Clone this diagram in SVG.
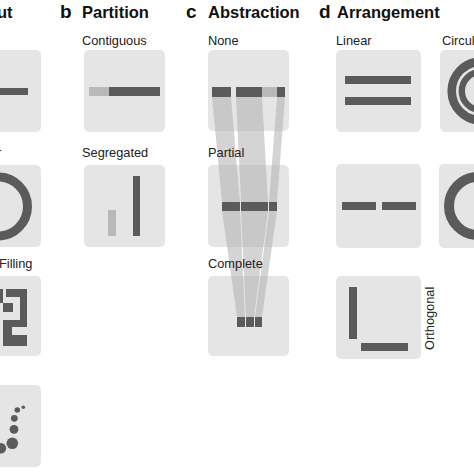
<svg xmlns="http://www.w3.org/2000/svg" width="474" height="474" viewBox="0 0 474 474">
<style>
.box{fill:#e5e5e5}
.dk{fill:#5b5b5b}
.lt{fill:#b9b9b9}
.ring{fill:none;stroke:#5b5b5b}
.title{font-family:"Liberation Sans",Arial,sans-serif;font-weight:bold;font-size:16.5px;fill:#111}
.letter{font-family:"Liberation Sans",Arial,sans-serif;font-weight:bold;font-size:19px;fill:#111}
.lbl{font-family:"Liberation Sans",Arial,sans-serif;font-size:12.8px;fill:#222}
.band{fill:#b0b0b0;fill-opacity:0.55}
</style>
<rect width="474" height="474" fill="#ffffff"/>

<!-- column a (cropped) -->
<g id="a-title"><text class="title" x="-3" y="18">ut</text></g>
<g id="a-linear">
<rect class="box" x="-42" y="50" width="83" height="82" rx="5"/>
<rect class="dk" x="-20" y="88" width="48" height="7"/>
</g>
<g id="a-circular">
<text class="lbl" x="-3" y="157">r</text>
<rect class="box" x="-42" y="165" width="83" height="82" rx="5"/>
<circle class="ring" cx="-2" cy="206.5" r="29.5" stroke-width="9"/>
</g>
<g id="a-filling">
<text class="lbl" x="-1" y="268">Filling</text>
<rect class="box" x="-42" y="276" width="83" height="80" rx="5"/>
<path class="dk" d="M-6 289H3V303H-6Z M6 289H27V320H20V297H6Z M3 303H13V312H3Z M3 320H27V327H12V335H27V346H3Z"/>
</g>
<g id="a-scatter">
<rect class="box" x="-42" y="385" width="83" height="82" rx="5"/>
<circle class="dk" cx="23.3" cy="407.3" r="1.8"/>
<circle class="dk" cx="17.3" cy="410" r="2.8"/>
<circle class="dk" cx="14.3" cy="418.3" r="3.4"/>
<circle class="dk" cx="14" cy="429.3" r="4.4"/>
<circle class="dk" cx="12.3" cy="443.3" r="5.8"/>
<circle class="dk" cx="1" cy="448.3" r="5.2"/>
</g>

<!-- column b -->
<g id="b-title"><text class="letter" x="60" y="18">b</text><text class="title" x="82" y="18">Partition</text></g>
<g id="b-contiguous">
<text class="lbl" x="82" y="45">Contiguous</text>
<rect class="box" x="84" y="50" width="81" height="82" rx="5"/>
<rect class="lt" x="89" y="87" width="20" height="9"/>
<rect class="dk" x="109" y="87" width="51" height="9"/>
</g>
<g id="b-segregated">
<text class="lbl" x="82" y="157">Segregated</text>
<rect class="box" x="84" y="165" width="81" height="82" rx="5"/>
<rect class="lt" x="108" y="210" width="8" height="26"/>
<rect class="dk" x="133" y="176" width="7" height="60"/>
</g>

<!-- column c -->
<g id="c-title"><text class="letter" x="186" y="18">c</text><text class="title" x="208" y="18">Abstraction</text></g>
<g id="c-panels">
<rect class="box" x="208" y="50" width="81" height="81" rx="5"/>
<rect class="box" x="208" y="165" width="81" height="82" rx="5"/>
<rect class="box" x="208" y="276" width="81" height="80" rx="5"/>
</g>
<g id="connectors">
<polygon class="band" points="212,97 231,97 240,202 240,211 245,317 237,317 222,211 222,202"/>
<polygon class="band" points="236,97 262,97 268,202 268,211 254,317 246,317 241,211 241,202"/>
<polygon class="band" points="277,97 285,97 277,202 277,211 262,317 255,317 269,211 269,202"/>
</g>
<g id="c-none">
<text class="lbl" x="208" y="45">None</text>
<rect class="dk" x="212" y="87" width="19" height="10"/>
<rect class="dk" x="236" y="87" width="26" height="10"/>
<rect class="lt" x="262" y="87" width="15" height="10"/>
<rect class="dk" x="277" y="87" width="8" height="10"/>
</g>
<g id="c-partial">
<text class="lbl" x="208" y="157">Partial</text>
<rect class="dk" x="222" y="202" width="18" height="9"/>
<rect class="dk" x="241" y="202" width="27" height="9"/>
<rect class="dk" x="269" y="202" width="8" height="9"/>
</g>
<g id="c-complete">
<text class="lbl" x="208" y="268">Complete</text>
<rect class="dk" x="237" y="317" width="8" height="10"/>
<rect class="dk" x="246" y="317" width="8" height="10"/>
<rect class="dk" x="255" y="317" width="7" height="10"/>
</g>

<!-- column d -->
<g id="d-title"><text class="letter" x="319" y="18">d</text><text class="title" x="337" y="18">Arrangement</text></g>
<g id="d-linear">
<text class="lbl" x="336" y="45">Linear</text>
<rect class="box" x="336" y="50" width="85" height="82" rx="5"/>
<rect class="dk" x="345" y="76" width="66" height="8"/>
<rect class="dk" x="345" y="97" width="66" height="8"/>
</g>
<g id="d-circular">
<text class="lbl" x="442" y="45">Circular</text>
<rect class="box" x="440" y="50" width="85" height="82" rx="5"/>
<circle class="ring" cx="481" cy="91" r="29.3" stroke-width="8.6"/>
<circle class="ring" cx="481" cy="91" r="19.2" stroke-width="6.4"/>
</g>
<g id="d-linear-broken">
<rect class="box" x="336" y="164" width="85" height="84" rx="5"/>
<rect class="dk" x="342" y="202" width="34" height="8"/>
<rect class="dk" x="382" y="202" width="34" height="8"/>
</g>
<g id="d-circular-2">
<rect class="box" x="439" y="164" width="85" height="84" rx="5"/>
<circle class="ring" cx="478" cy="206" r="29" stroke-width="10"/>
</g>
<g id="d-orthogonal">
<rect class="box" x="336" y="276" width="85" height="83" rx="5"/>
<rect class="dk" x="349" y="287" width="8" height="52"/>
<rect class="dk" x="361" y="343" width="47" height="8"/>
<text class="lbl" transform="translate(434,350) rotate(-90)">Orthogonal</text>
</g>
</svg>
